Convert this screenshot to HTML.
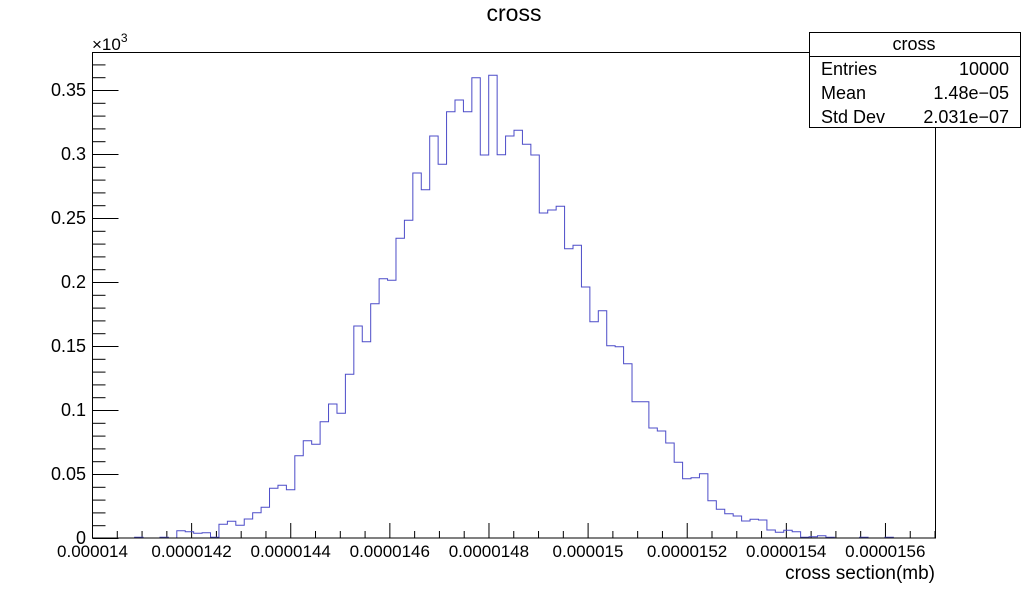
<!DOCTYPE html>
<html><head><meta charset="utf-8"><style>
body{margin:0;background:#fff}
svg{display:block;font-family:"Liberation Sans",Arial,sans-serif}
</style></head><body>
<svg width="1035" height="589" viewBox="0 0 1035 589" xmlns="http://www.w3.org/2000/svg">
<rect width="1035" height="589" fill="#fff"/>
<text x="514" y="21" font-size="23" text-anchor="middle">cross</text>
<g id="ticks" stroke="#000" stroke-width="1"></g>
<path id="hist" fill="none" stroke="#4c4cc8" stroke-width="1" d=""/>
<rect x="92.5" y="52.5" width="843" height="485.5" fill="none" stroke="#000"/>
<g font-size="18" text-anchor="end" id="ylab"></g>
<text x="92" y="50" font-size="17">×10<tspan dy="-8" font-size="12">3</tspan></text>
<g font-size="17" text-anchor="middle" id="xlab"></g>
<text x="935" y="579" font-size="19" text-anchor="end">cross section(mb)</text>
<rect x="809.5" y="32.5" width="211" height="95" fill="#fff" stroke="#000"/>
<line x1="809.5" y1="56.5" x2="1020.5" y2="56.5" stroke="#000"/>
<g font-size="18">
<text x="914" y="50" text-anchor="middle">cross</text>
<text x="821" y="75">Entries</text><text x="1009" y="75" text-anchor="end">10000</text>
<text x="821" y="99">Mean</text><text x="1009" y="99" text-anchor="end">1.48e−05</text>
<text x="821" y="123">Std Dev</text><text x="1009" y="123" text-anchor="end">2.031e−07</text>
</g>
</svg>
<script>
var tops={5:537.3,8:537.3,10:530.7,11:531.7,12:533.3,13:532.7,14:537.3,15:524.3,16:521.3,17:525.3,18:519,19:512.7,20:507.3,21:488.3,22:485.3,23:489.7,24:455.7,25:440.7,26:444.3,27:421.7,28:404,29:413.3,30:374.3,31:326,32:341.7,33:303.7,34:278.7,35:280.3,36:238.3,37:220.3,38:173,39:189.7,40:136,41:164.3,42:111.7,43:100,44:111.7,45:77.7,46:155,47:75.3,48:154.7,49:136,50:130.3,51:144.3,52:155,53:213,54:210,55:206.3,56:248.7,57:245.3,58:287,59:321.7,60:310.7,61:345.7,62:346.7,63:363.7,64:401.7,65:401.7,66:428,67:431,68:443,69:462.3,70:478.7,71:477.7,72:473.7,73:500.7,74:509.3,75:513.7,76:516,77:521,78:519.3,79:520,80:530,81:532.3,82:530.3,83:531.7,84:537.3,85:536.7,86:535.7,87:537.3,91:537.3,94:537.3};
var x0=92.5,bw=8.43,base=538,d="M"+x0+" "+base;
for(var i=0;i<100;i++){var y=tops[i]||base;d+=" L"+(x0+i*bw).toFixed(2)+" "+y+" L"+(x0+(i+1)*bw).toFixed(2)+" "+y;}
d+=" L"+(x0+100*bw).toFixed(2)+" "+base;
document.getElementById("hist").setAttribute("d",d);
var t=document.getElementById("ticks"),s="";
for(var k=0;k<=37;k++){var y=538-k*12.8;if(y<53)break;var L=(k%5==0)?26:13;s+='<line x1="92.5" x2="'+(92.5+L)+'" y1="'+(y+0.5)+'" y2="'+(y+0.5)+'"/>';}
for(var k=0;k<=34;k++){var x=92.5+k*24.78;if(x>936)break;var L=(k%4==0)?15:7;s+='<line x1="'+x+'" x2="'+x+'" y1="538" y2="'+(538-L)+'"/>';}
t.innerHTML=s;
var yl=["0","0.05","0.1","0.15","0.2","0.25","0.3","0.35"],g=document.getElementById("ylab"),h="";
for(var k=0;k<8;k++){h+='<text x="86" y="'+(538-k*64+6)+'">'+yl[k]+'</text>';}
g.innerHTML=h;
var xl=["0.000014","0.0000142","0.0000144","0.0000146","0.0000148","0.000015","0.0000152","0.0000154","0.0000156"],gx=document.getElementById("xlab");h="";
for(var k=0;k<9;k++){h+='<text x="'+(92.5+k*99.1)+'" y="557">'+xl[k]+'</text>';}
gx.innerHTML=h;
</script>
</body></html>
